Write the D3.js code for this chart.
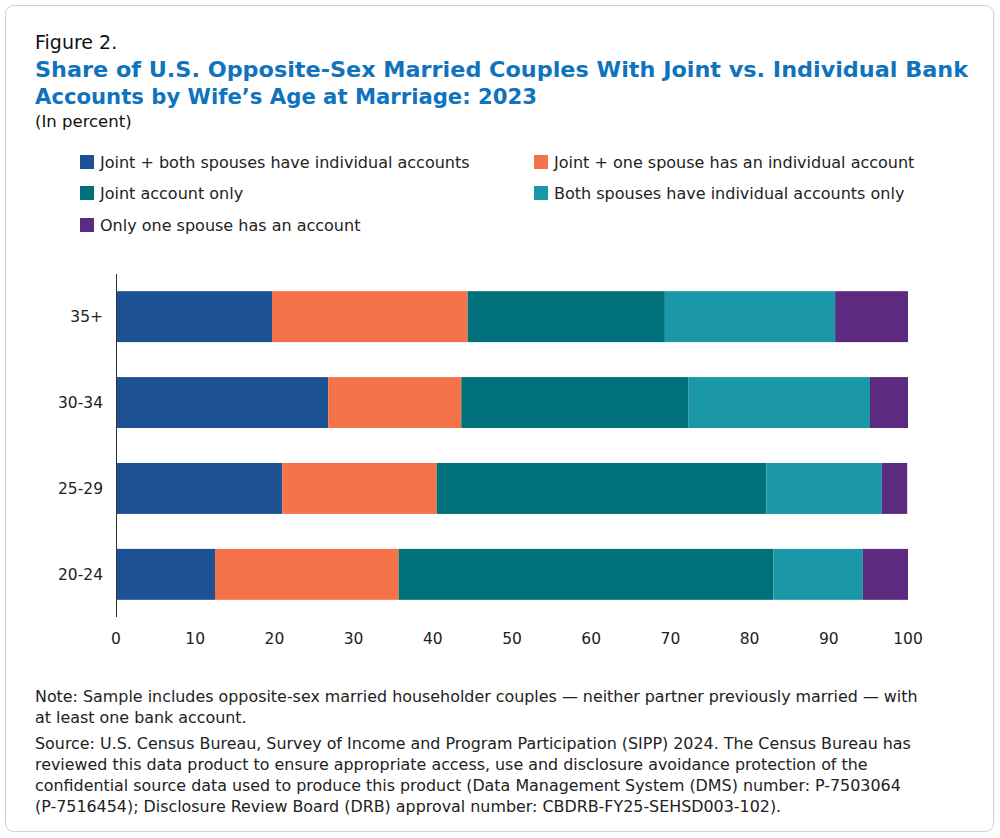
<!DOCTYPE html>
<html><head><meta charset="utf-8">
<script src="https://cdn.jsdelivr.net/npm/d3@7"></script>
<style>body{margin:0;background:#fff;font-family:"DejaVu Sans",sans-serif;}</style>
</head><body>
<svg id="c" width="1000" height="838"></svg>
<script>
var ages = ["35+", "30-34", "25-29", "20-24"];
var seriesNames = ["Joint + both spouses have individual accounts", "Joint + one spouse has an individual account",
  "Joint account only", "Both spouses have individual accounts only", "Only one spouse has an account"];
var jointBoth = [19.7, 26.8, 21.0, 12.5];
var jointOne = [24.7, 16.8, 19.5, 23.2];
var jointOnly = [24.9, 28.7, 41.6, 47.3];
var indivOnly = [21.5, 22.9, 14.6, 11.3];
var oneSpouse = [9.2, 4.8, 3.2, 5.7];
var xTicks = [0, 10, 20, 30, 40, 50, 60, 70, 80, 90, 100];
var colors = ["#1c5193", "#f4734a", "#00707a", "#1b98a8", "#5c2a7e"];

var svg = d3.select("#c");
svg.append("rect").attr("x", 5.5).attr("y", 5.5).attr("width", 988).attr("height", 826)
  .attr("rx", 8).attr("fill", "none").attr("stroke", "#cfcfcf");

svg.append("text").attr("x", 35).attr("y", 49).attr("font-size", 19).attr("fill", "#111").text("Figure 2.");
svg.append("text").attr("x", 35).attr("y", 77).attr("font-size", 21.5).attr("font-weight", 700).attr("fill", "#0f73bd")
  .attr("textLength", 933).attr("lengthAdjust", "spacingAndGlyphs")
  .text("Share of U.S. Opposite-Sex Married Couples With Joint vs. Individual Bank");
svg.append("text").attr("x", 35).attr("y", 104).attr("font-size", 21.5).attr("font-weight", 700).attr("fill", "#0f73bd")
  .attr("textLength", 502).attr("lengthAdjust", "spacingAndGlyphs")
  .text("Accounts by Wife\u2019s Age at Marriage: 2023");
svg.append("text").attr("x", 35).attr("y", 127).attr("font-size", 16.5).attr("fill", "#111").text("(In percent)");

var legPos = [[80, 162], [534, 162], [80, 193], [534, 193], [80, 225]];
seriesNames.forEach(function(n, i) {
  var g = svg.append("g").attr("transform", "translate(" + legPos[i][0] + "," + legPos[i][1] + ")");
  g.append("rect").attr("x", 0).attr("y", -7).attr("width", 14).attr("height", 14).attr("fill", colors[i]);
  g.append("text").attr("x", 20).attr("y", 5.5).attr("font-size", 16).attr("fill", "#222").text(n);
});

var x = d3.scaleLinear().domain([0, 100]).range([116, 908]);
var y = d3.scaleBand().domain(ages).range([274, 617]).paddingInner(0.407).paddingOuter(0.2);

var stackData = ages.map(function(a, i) {
  return {age: a, s0: jointBoth[i], s1: jointOne[i], s2: jointOnly[i], s3: indivOnly[i], s4: oneSpouse[i]};
});
var stack = d3.stack().keys(["s0", "s1", "s2", "s3", "s4"])(stackData);
stack.forEach(function(layer, k) {
  svg.append("g").selectAll("rect").data(layer).join("rect")
    .attr("x", function(d) { return x(d[0]); })
    .attr("width", function(d) { return x(d[1]) - x(d[0]); })
    .attr("y", function(d) { return y(d.data.age); })
    .attr("height", y.bandwidth())
    .attr("fill", colors[k]);
});

svg.append("line").attr("x1", 116.5).attr("x2", 116.5).attr("y1", 274).attr("y2", 617).attr("stroke", "#333");

svg.append("g").selectAll("text").data(ages).join("text")
  .attr("x", 103).attr("y", function(d) { return y(d) + y.bandwidth() / 2 + 5.5; })
  .attr("text-anchor", "end").attr("font-size", 15.5).attr("fill", "#222").text(function(d) { return d; });

svg.append("g").selectAll("text").data(xTicks).join("text")
  .attr("x", function(d) { return x(d); }).attr("y", 644)
  .attr("text-anchor", "middle").attr("font-size", 15.5).attr("fill", "#222").text(function(d) { return d; });

var notes = [
  [702, "Note: Sample includes opposite-sex married householder couples \u2014 neither partner previously married \u2014 with"],
  [723, "at least one bank account."],
  [749, "Source: U.S. Census Bureau, Survey of Income and Program Participation (SIPP) 2024. The Census Bureau has"],
  [770, "reviewed this data product to ensure appropriate access, use and disclosure avoidance protection of the"],
  [791, "confidential source data used to produce this product (Data Management System (DMS) number: P-7503064"],
  [812, "(P-7516454); Disclosure Review Board (DRB) approval number: CBDRB-FY25-SEHSD003-102)."]
];
svg.append("g").selectAll("text").data(notes).join("text")
  .attr("x", 35).attr("y", function(d) { return d[0]; })
  .attr("font-size", 15.9).attr("fill", "#222").text(function(d) { return d[1]; });
</script>
</body></html>
